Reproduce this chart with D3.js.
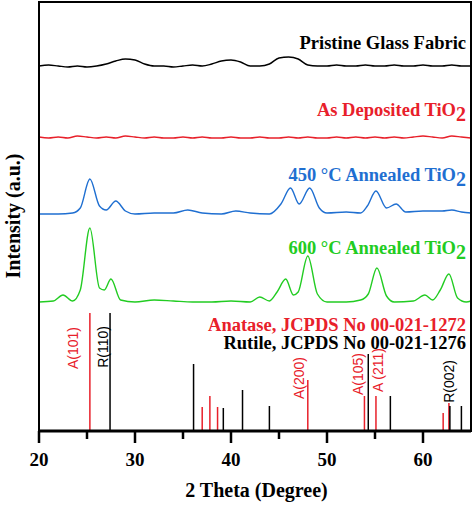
<!DOCTYPE html>
<html><head><meta charset="utf-8">
<script src="https://cdn.jsdelivr.net/npm/d3@7"></script>
<style>body{margin:0;background:#fff}</style>
</head><body>
<script>
// Patrones XRD (x = 2θ, y = intensidad relativa a la línea base)
const pristine = [[20,0],[21,1],[22,0],[23,-1],[24,0],[25,-1],[26,0],[27,2],[28,5],[29,7],[30,6],[31,2],[32,0],[33,0],[34,-1],[35,0],[36,1],[37,0],[38,2],[39,5],[40,6],[41,4],[42,0],[43,0],[44,2],[45,8],[46,9],[47,7],[48,1],[49,0],[50,0],[51,1],[52,0],[53,0],[54,1],[55,0],[56,0],[57,1],[58,0],[59,0],[60,1],[61,0],[62,0],[63,1],[64,0],[65,0]];
const deposited = [[20,1],[21,0],[22,1],[23,0],[24,2],[25,1],[26,0],[27,1],[28,0],[29,2],[30,1],[31,0],[32,1],[33,0],[34,0],[35,1],[36,0],[37,1],[38,0],[39,0],[40,1],[41,0],[42,0],[43,1],[44,0],[45,0],[46,1],[47,0],[48,1],[49,0],[50,0],[51,1],[52,0],[53,1],[54,0],[55,1],[56,0],[57,1],[58,0],[59,1],[60,2],[61,1],[62,0],[63,2],[64,1],[65,0]];
const annealed450 = [[20,0],[22,0],[23.5,1],[24.3,6],[25.3,35],[26.3,8],[27,4],[28,13],[29,3],[30,0],[32,1],[34,1],[35.5,4],[37,1],[39,0],[40.5,3],[42,1],[44,0],[45.2,10],[46.2,26],[47.1,10],[48.2,26],[49.2,6],[50,1],[52,2],[53.5,1],[54.2,8],[55.1,23],[56.2,6],[57.2,10],[58.2,2],[60,3],[62,3],[63,4],[64,2],[65,1]];
const annealed600 = [[20,0],[21.5,1],[22.5,7],[23.5,1],[24.3,12],[25.3,74],[26.3,14],[26.8,12],[27.5,23],[28.5,2],[30,0],[32,2],[34,1],[36,0],[38,0],[40,1],[42,0],[43,5],[44,1],[44.8,10],[45.7,23],[46.5,7],[47,10],[48,46],[49,8],[50,0],[52,0],[53.5,2],[54.3,8],[55.2,34],[56.2,6],[57,0],[59,1],[60.2,7],[61,2],[61.8,12],[62.7,28],[63.6,4],[64.5,0],[65,1]];

const patterns = [
  {name: "Pristine Glass Fabric", sub: null, color: "#000000", base: 365, data: pristine, labelY: 49},
  {name: "As Deposited TiO", sub: "2", color: "#e8202a", base: 293, data: deposited, labelY: 116},
  {name: "450 °C Annealed TiO", sub: "2", color: "#1f6fd1", base: 217, data: annealed450, labelY: 181},
  {name: "600 °C Annealed TiO", sub: "2", color: "#22cc22", base: 129, data: annealed600, labelY: 254}
];

// Líneas de referencia JCPDS
const anatase = [[25.3,118],[37.0,24],[37.8,35],[38.6,24],[48.0,51],[53.9,35],[55.1,35],[62.1,18],[62.7,28]];
const rutile = [[27.4,118],[36.1,67],[39.2,23],[41.2,41],[44.0,25],[54.3,77],[56.6,35],[62.8,25],[64.0,25]];
const stickLabels = ["A(101)", "R(110)", "A(200)", "A(105)", "A (211)", "R(002)"];
const stickLabelX = [23.5, 26.7, 47.1, 53.2, 55.3, 62.7];
const stickLabelTop = [104, 105, 74, 78, 83, 71];
const stickLabelColor = ["#e8202a", "#000", "#e8202a", "#e8202a", "#e8202a", "#000"];

const xTicks = [20, 30, 40, 50, 60];
const xMinor = [25, 35, 45, 55];

const W = 474, H = 507;
const m = {l: 39, r: 3, t: 2, b: 76};
const x = d3.scaleLinear().domain([20, 65]).range([m.l, W - m.r]);
const y = d3.scaleLinear().domain([0, 429]).range([H - m.b, m.t]);

const svg = d3.select("body").append("svg").attr("width", W).attr("height", H);

const line = d3.line().x(d => x(d[0])).y(d => y(d[1])).curve(d3.curveMonotoneX);

patterns.forEach(p => {
  svg.append("path")
    .datum(p.data.map(d => [d[0], d[1] + p.base]))
    .attr("d", line).attr("fill", "none")
    .attr("stroke", p.color).attr("stroke-width", 1.4);
  const t = svg.append("text").attr("x", W - 8).attr("y", p.labelY)
    .attr("text-anchor", "end").attr("fill", p.color)
    .attr("font-family", "Liberation Serif").attr("font-weight", "bold")
    .attr("font-size", 18.5).text(p.name);
  if (p.sub) t.append("tspan").attr("dy", 5).attr("font-size", 20).text(p.sub);
});

svg.selectAll(".an").data(anatase).join("line")
  .attr("x1", d => x(d[0])).attr("x2", d => x(d[0]))
  .attr("y1", y(0)).attr("y2", d => y(d[1]))
  .attr("stroke", "#e8202a").attr("stroke-width", 1.5);
svg.selectAll(".ru").data(rutile).join("line")
  .attr("x1", d => x(d[0])).attr("x2", d => x(d[0]))
  .attr("y1", y(0)).attr("y2", d => y(d[1]))
  .attr("stroke", "#000").attr("stroke-width", 1.5);

stickLabels.forEach((s, i) => {
  svg.append("text")
    .attr("transform", `translate(${x(stickLabelX[i])},${y(stickLabelTop[i])}) rotate(-90)`)
    .attr("text-anchor", "end").attr("dy", 5)
    .attr("fill", stickLabelColor[i]).attr("font-family", "Liberation Sans")
    .attr("font-size", 14).text(s);
});

svg.append("text").attr("x", W - 8).attr("y", 331).attr("text-anchor", "end")
  .attr("fill", "#e8202a").attr("font-family", "Liberation Serif").attr("font-weight", "bold")
  .attr("font-size", 18.5).text("Anatase, JCPDS No 00-021-1272");
svg.append("text").attr("x", W - 8).attr("y", 349).attr("text-anchor", "end")
  .attr("fill", "#000").attr("font-family", "Liberation Serif").attr("font-weight", "bold")
  .attr("font-size", 18.5).text("Rutile, JCPDS No 00-021-1276");

// marco y eje
svg.append("rect").attr("x", m.l).attr("y", m.t).attr("width", W - m.r - m.l).attr("height", y(0) - m.t)
  .attr("fill", "none").attr("stroke", "#000").attr("stroke-width", 2);
svg.append("line").attr("x1", m.l).attr("x2", W - m.r).attr("y1", y(0)).attr("y2", y(0))
  .attr("stroke", "#000").attr("stroke-width", 3);
svg.selectAll(".tk").data(xTicks.concat(xMinor)).join("line")
  .attr("x1", d => x(d)).attr("x2", d => x(d))
  .attr("y1", y(0)).attr("y2", d => y(0) + (xTicks.includes(d) ? 12 : 8))
  .attr("stroke", "#000").attr("stroke-width", 2.5);
svg.selectAll(".tl").data(xTicks).join("text")
  .attr("x", d => x(d)).attr("y", y(0) + 35).attr("text-anchor", "middle")
  .attr("font-family", "Liberation Serif").attr("font-weight", "bold").attr("font-size", 19)
  .text(d => d);

svg.append("text").attr("x", (m.l + W) / 2).attr("y", 497).attr("text-anchor", "middle")
  .attr("font-family", "Liberation Serif").attr("font-weight", "bold").attr("font-size", 20)
  .text("2 Theta (Degree)");
svg.append("text").attr("transform", "translate(20,216) rotate(-90)").attr("text-anchor", "middle")
  .attr("font-family", "Liberation Serif").attr("font-weight", "bold").attr("font-size", 20)
  .text("Intensity (a.u.)");
</script>
</body></html>
